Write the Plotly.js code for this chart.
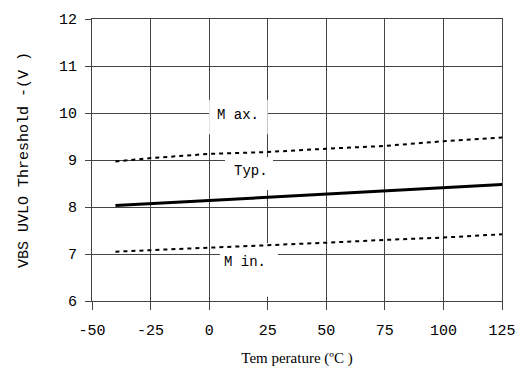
<!DOCTYPE html>
<html>
<head>
<meta charset="utf-8">
<script src="https://cdn.plot.ly/plotly-3.0.1.min.js"></script>
<style>html,body{margin:0;padding:0;background:#fff}#chart{width:521px;height:386px}</style>
</head>
<body>
<div id="chart"></div>
<script>
var temperature = [-40, -25, 0, 25, 50, 75, 100, 125];
var vbsMax = [8.97, 9.04, 9.13, 9.17, 9.24, 9.30, 9.40, 9.48];
var vbsTyp = [8.03, 8.07, 8.14, 8.21, 8.28, 8.34, 8.41, 8.48];
var vbsMin = [7.05, 7.08, 7.13, 7.19, 7.24, 7.30, 7.35, 7.42];
var xTicks = [-50, -25, 0, 25, 50, 75, 100, 125];
var yTicks = [6, 7, 8, 9, 10, 11, 12];
var labelText = ["M ax.", "Typ.", "M in."];
var labelX = [12.5, 18, 15.5];
var labelY = [9.96, 8.76, 6.84];

var FONT = "Liberation Mono, DejaVu Sans Mono, monospace";
var SERIF = "Liberation Serif, serif";

var traces = [
  {x: temperature, y: vbsMax, mode: "lines", line: {color: "#000", width: 2, dash: "4px,4px"}, hoverinfo: "skip"},
  {x: temperature, y: vbsTyp, mode: "lines", line: {color: "#000", width: 3}, hoverinfo: "skip"},
  {x: temperature, y: vbsMin, mode: "lines", line: {color: "#000", width: 2, dash: "4px,4px"}, hoverinfo: "skip"}
];

var boxes = [
  [0, 25, 9.55, 10.28],
  [6.8, 27.3, 8.36, 9.06],
  [4.6, 29.4, 6.09, 7.23]
];
var shapes = boxes.map(function(b){
  return {type: "rect", xref: "x", yref: "y", x0: b[0], x1: b[1], y0: b[2], y1: b[3],
          fillcolor: "#fff", line: {width: 0}, layer: "between"};
});

var annotations = labelText.map(function(t, i){
  return {x: labelX[i], y: labelY[i], xref: "x", yref: "y", text: t, showarrow: false,
          font: {family: FONT, size: 14, color: "#000"}};
});

var layout = {
  width: 521, height: 386,
  margin: {l: 92, r: 19, t: 19, b: 85},
  paper_bgcolor: "#fff", plot_bgcolor: "#fff",
  showlegend: false,
  font: {family: FONT, size: 14, color: "#000"},
  xaxis: {
    range: [-50, 125], tickvals: xTicks, ticktext: xTicks.map(String),
    showgrid: true, gridcolor: "#444", gridwidth: 1, zeroline: false,
    showline: true, linecolor: "#444", linewidth: 1, mirror: true,
    ticks: "outside", ticklen: 8, tickcolor: "#444", ticklabelstandoff: 7,
    tickfont: {family: FONT, size: 15, color: "#000"},
    title: {text: "Tem perature (ºC )", font: {family: SERIF, size: 15, color: "#000"}, standoff: 13}
  },
  yaxis: {
    range: [6, 12], tickvals: yTicks, ticktext: yTicks.map(String),
    showgrid: true, gridcolor: "#444", gridwidth: 1, zeroline: false,
    showline: true, linecolor: "#444", linewidth: 1, mirror: true,
    ticks: "outside", ticklen: 6, tickcolor: "#444", ticklabelstandoff: 5,
    tickfont: {family: FONT, size: 15, color: "#000"},
    title: {text: "VBS UVLO Threshold -(V )", font: {family: FONT, size: 15, color: "#000"}, standoff: 26}
  },
  shapes: shapes,
  annotations: annotations
};

Plotly.newPlot("chart", traces, layout, {staticPlot: true, displayModeBar: false});
</script>
</body>
</html>
